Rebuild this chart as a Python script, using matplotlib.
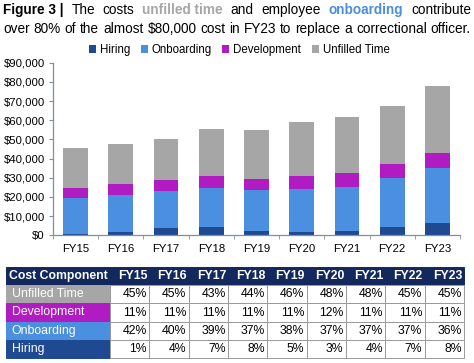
import matplotlib
matplotlib.use("Agg")
import matplotlib.pyplot as plt
import numpy as np

plt.rcParams['font.family'] = ['Liberation Sans', 'DejaVu Sans']

years = ["FY15", "FY16", "FY17", "FY18", "FY19", "FY20", "FY21", "FY22", "FY23"]
hiring = [700, 1900, 3600, 4500, 2400, 1700, 2200, 4500, 6400]
onboarding = [18900, 19300, 19600, 20300, 21000, 22300, 23100, 25200, 28500]
development = [5200, 5400, 5500, 5900, 6100, 6700, 7200, 7300, 8100]
unfilled = [20700, 21100, 21600, 24500, 25300, 28300, 29300, 30200, 35000]

pct_unfilled = ["45%", "45%", "43%", "44%", "46%", "48%", "48%", "45%", "45%"]
pct_development = ["11%", "11%", "11%", "11%", "11%", "12%", "11%", "11%", "11%"]
pct_onboarding = ["42%", "40%", "39%", "37%", "38%", "37%", "37%", "37%", "36%"]
pct_hiring = ["1%", "4%", "7%", "8%", "5%", "3%", "4%", "7%", "8%"]

C_HIRING = "#1F4A92"
C_ONB = "#4A8FE0"
C_DEV = "#B01CC2"
C_UNF = "#A6A6A6"
C_HEAD = "#13295E"

W, H = 474, 363
fig = plt.figure(figsize=(W / 100, H / 100), dpi=100)
renderer = fig.canvas.get_renderer()

title_line2 = "over 80% of the almost $80,000 cost in FY23 to replace a correctional officer."

# choose title size so that line 2 fills the width naturally
probe = fig.text(0, 0, title_line2, fontsize=10)
pw = probe.get_window_extent(renderer).width
probe.remove()
TSIZE = 10 * 467 / pw

# ---- Title (justified) ----
def justify_line(words, y, x0=3, x1=471, size=TSIZE):
    texts = []
    for s, kw in words:
        t = fig.text(0, y / H, s, fontsize=size, va="baseline", ha="left",
                     transform=fig.transFigure, **kw)
        texts.append(t)
    widths = [t.get_window_extent(renderer).width for t in texts]
    gap = (x1 - x0 - sum(widths)) / (len(texts) - 1)
    x = x0
    for t, w in zip(texts, widths):
        t.set_x(x / W)
        x += w + gap

line1 = [("Figure 3 |", dict(fontweight="bold")),
         ("The", {}), ("costs", {}),
         ("unfilled time", dict(fontweight="bold", color="#A6A6A6")),
         ("and", {}), ("employee", {}),
         ("onboarding", dict(fontweight="bold", color="#4A8FE0")),
         ("contribute", {})]
line2 = [(w, {}) for w in title_line2.split()]
justify_line(line1, H - 14)
justify_line(line2, H - 33)

# ---- Bar chart ----
ax = fig.add_axes([53 / W, 1 - 235.3 / H, (460 - 53) / W, (235.3 - 62.7) / H])
x = np.arange(len(years))
bw = 0.55
b0 = np.zeros(len(years))
series = [("Hiring", hiring, C_HIRING), ("Onboarding", onboarding, C_ONB),
          ("Development", development, C_DEV), ("Unfilled Time", unfilled, C_UNF)]
for name, vals, col in series:
    ax.bar(x, vals, bw, bottom=b0, color=col, label=name, zorder=2)
    b0 = b0 + np.array(vals)

ax.set_xlim(-0.5, len(years) - 0.5)
ax.set_ylim(0, 90000)
ax.set_yticks(np.arange(0, 90001, 10000))
ax.set_yticklabels([f"${v:,.0f}" for v in np.arange(0, 90001, 10000)], fontsize=8.2)
ax.set_xticks(x)
ax.set_xticklabels(years, fontsize=8.2)
ax.tick_params(axis="x", length=0, pad=6)
ax.set_xticks(np.arange(-0.5, len(years)), minor=True)
ax.tick_params(axis="x", which="minor", length=3, color="#7F8FA6", direction="out")
ax.tick_params(axis="y", length=3, color="#7F8FA6", direction="out", pad=3)
for s in ["top", "right"]:
    ax.spines[s].set_visible(False)
for s in ["left", "bottom"]:
    ax.spines[s].set_color("#7F8FA6")
    ax.spines[s].set_linewidth(0.9)

leg = fig.legend(loc="center", bbox_to_anchor=(0.505, 1 - 50 / H), ncol=4, frameon=False,
                 fontsize=8.3, handlelength=0.6, handleheight=0.6, handletextpad=0.35,
                 columnspacing=0.9, borderaxespad=0)

# ---- Table ----
tx0, tx1, ty0, ty1 = 6, 464, 267, 358
tax = fig.add_axes([tx0 / W, 1 - ty1 / H, (tx1 - tx0) / W, (ty1 - ty0) / H])
tax.axis("off")
row_labels = ["Unfilled Time", "Development", "Onboarding", "Hiring"]
row_cols = [C_UNF, C_DEV, C_ONB, C_HIRING]
cells = [["Cost Component"] + years,
         [row_labels[0]] + pct_unfilled,
         [row_labels[1]] + pct_development,
         [row_labels[2]] + pct_onboarding,
         [row_labels[3]] + pct_hiring]
colours = [[C_HEAD] * 10] + [[c] + ["white"] * 9 for c in row_cols]
first_w = (110 - tx0) / (tx1 - tx0)
other_w = (1 - first_w) / 9
tbl = tax.table(cellText=cells, cellColours=colours, cellLoc="right",
                colWidths=[first_w] + [other_w] * 9, bbox=[0, 0, 1, 1])
tbl.auto_set_font_size(False)
tbl.set_fontsize(8.8)
for (r, c), cell in tbl.get_celld().items():
    cell.set_edgecolor("#9A9A9A")
    cell.set_linewidth(0.7)
    txt = cell.get_text()
    if r == 0:
        txt.set_color("white")
        txt.set_fontweight("bold")
        cell.set_edgecolor(C_HEAD)
        if c == 0:
            txt.set_ha("left")
            cell.PAD = 0.03
        else:
            cell.PAD = 0.05
    elif c == 0:
        txt.set_color("white")
        txt.set_ha("left")
        cell.PAD = 0.055
        cell.set_edgecolor(row_cols[r - 1])
    else:
        txt.set_color("black")
        cell.PAD = 0.06

fig.savefig("out.png", dpi=100)
